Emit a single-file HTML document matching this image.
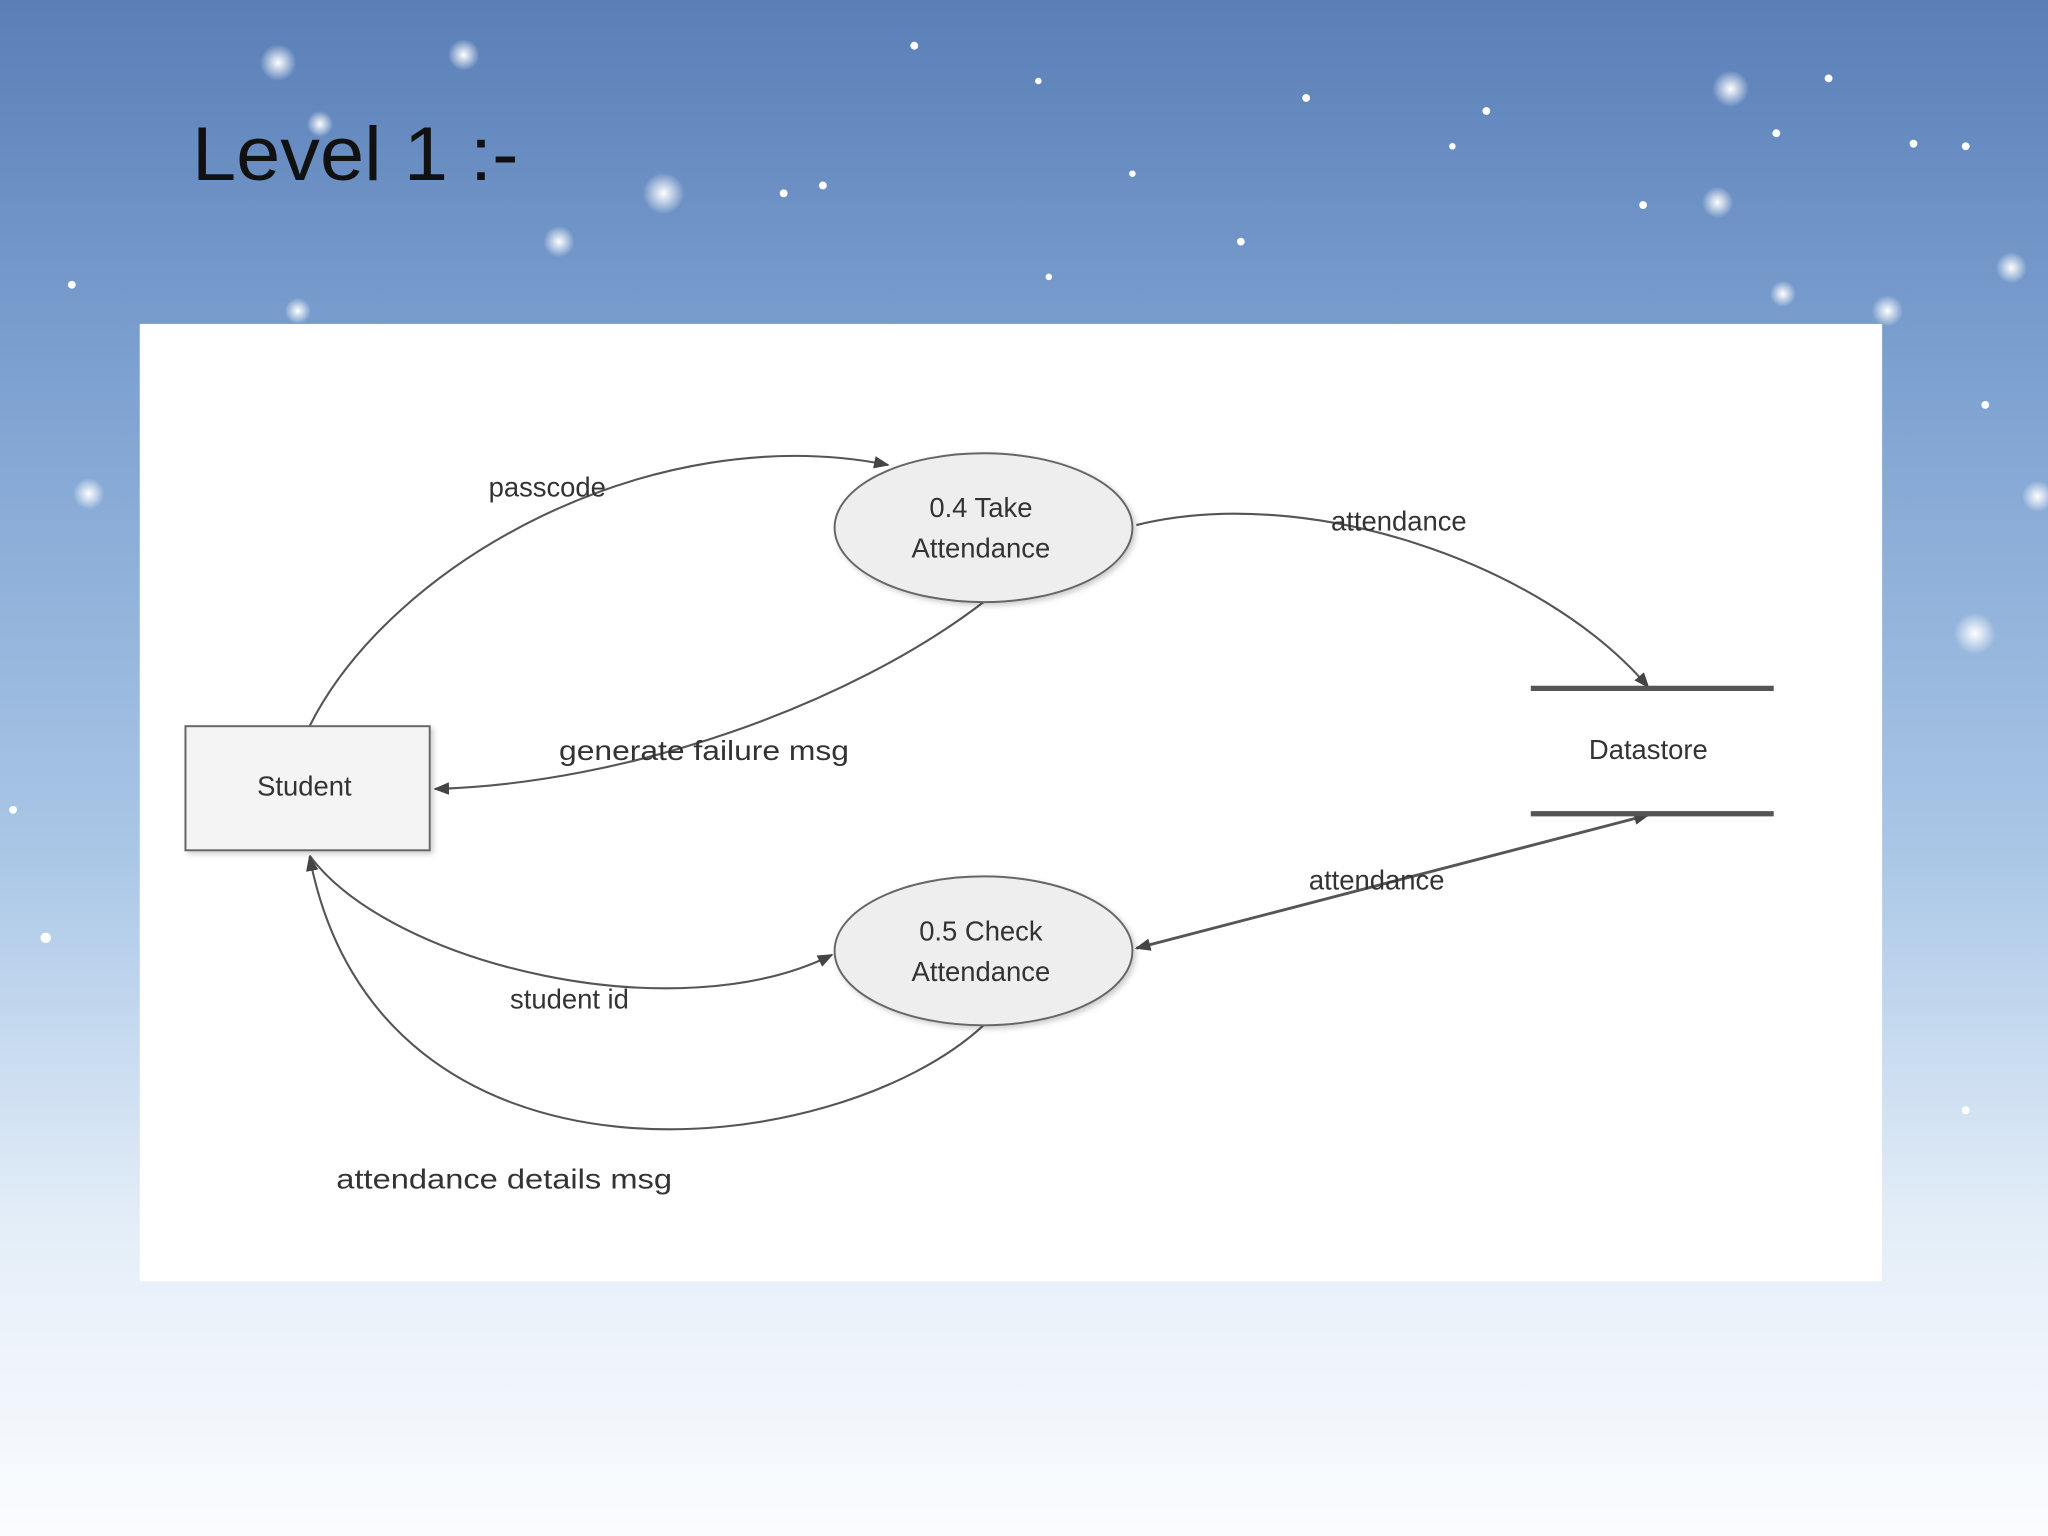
<!DOCTYPE html>
<html><head><meta charset="utf-8"><style>
html,body{margin:0;padding:0;width:2048px;height:1536px;overflow:hidden}
svg{display:block}
</style></head><body>
<svg width="2048" height="1536" viewBox="0 0 1568 1176" xmlns="http://www.w3.org/2000/svg">
<defs>
<linearGradient id="bg" x1="0" y1="0" x2="0" y2="1">
<stop offset="0" stop-color="#5a7fb7"/>
<stop offset="0.25" stop-color="#7ea2d1"/>
<stop offset="0.55" stop-color="#a9c6e6"/>
<stop offset="0.8" stop-color="#e4eef8"/>
<stop offset="1" stop-color="#fbfcfe"/>
</linearGradient>
<radialGradient id="st"><stop offset="0" stop-color="#fff"/><stop offset="1" stop-color="#fff" stop-opacity="0"/></radialGradient>
<marker id="ar" viewBox="0 0 10 10" refX="9" refY="5" markerWidth="12" markerHeight="12" markerUnits="userSpaceOnUse" orient="auto-start-reverse">
<path d="M0,1 L10,5 L0,9 z" fill="#444"/></marker>
<filter id="sh"><feDropShadow dx="2" dy="2" stdDeviation="2" flood-color="#000" flood-opacity="0.2"/></filter>
</defs>
<rect width="1568" height="1176" fill="url(#bg)"/>
<g fill="url(#st)">
<circle cx="213" cy="48" r="14"/><circle cx="355" cy="42" r="12"/><circle cx="245" cy="95" r="10"/>
<circle cx="508" cy="148" r="16"/><circle cx="428" cy="185" r="12"/><circle cx="68" cy="378" r="12"/>
<circle cx="1325" cy="68" r="14"/><circle cx="1315" cy="155" r="12"/><circle cx="1540" cy="205" r="12"/>
<circle cx="1445" cy="238" r="12"/><circle cx="1512" cy="485" r="16"/><circle cx="1365" cy="225" r="10"/>
<circle cx="228" cy="238" r="10"/><circle cx="1560" cy="380" r="12"/>
</g>
<g fill="#fff">
<circle cx="600" cy="148" r="3"/><circle cx="630" cy="142" r="3"/><circle cx="795" cy="62" r="2.5"/>
<circle cx="1000" cy="75" r="3"/><circle cx="1138" cy="85" r="3"/><circle cx="1112" cy="112" r="2.5"/>
<circle cx="950" cy="185" r="3"/><circle cx="1258" cy="157" r="3"/><circle cx="1360" cy="102" r="3"/>
<circle cx="1400" cy="60" r="3"/><circle cx="1465" cy="110" r="3"/><circle cx="1505" cy="112" r="3"/>
<circle cx="700" cy="35" r="3"/><circle cx="867" cy="133" r="2.5"/><circle cx="803" cy="212" r="2.5"/>
<circle cx="55" cy="218" r="3"/><circle cx="35" cy="718" r="4"/><circle cx="10" cy="620" r="3"/>
<circle cx="1520" cy="310" r="3"/><circle cx="1505" cy="850" r="3"/>
</g>
<text x="147" y="138" font-family="Liberation Sans, sans-serif" font-size="58" fill="#111" textLength="250" lengthAdjust="spacingAndGlyphs">Level 1 :-</text>
<rect x="107" y="248" width="1334" height="733" fill="#fff"/>
<g fill="none" stroke="#555" stroke-width="1.6">
<path d="M237,556 C300,430 500,320 680,356" marker-end="url(#ar)"/>
<path d="M753,461 C650,540 480,600 333,604" marker-end="url(#ar)"/>
<path d="M870,402 C1000,370 1180,430 1262,526" marker-end="url(#ar)"/>
<path d="M237,655 C300,740 520,790 637,731" marker-end="url(#ar)"/>
<path d="M753,785 C640,890 290,930 237,656" marker-end="url(#ar)"/>
<path d="M870,726 L1262,624" marker-start="url(#ar)" marker-end="url(#ar)" stroke-width="2.2"/>
</g>
<rect x="142" y="556" width="187" height="95" fill="#f4f4f4" stroke="#666" stroke-width="1.5" filter="url(#sh)"/>
<ellipse cx="753" cy="404" rx="114" ry="57" fill="#eeeeee" stroke="#666" stroke-width="1.5" filter="url(#sh)"/>
<ellipse cx="753" cy="728" rx="114" ry="57" fill="#eeeeee" stroke="#666" stroke-width="1.5" filter="url(#sh)"/>
<line x1="1172" y1="527" x2="1358" y2="527" stroke="#555" stroke-width="4"/>
<line x1="1172" y1="623" x2="1358" y2="623" stroke="#555" stroke-width="4"/>
<g font-family="Liberation Sans, sans-serif" font-size="21" fill="#333" text-anchor="middle">
<text x="233" y="609">Student</text>
<text x="751" y="396">0.4 Take</text><text x="751" y="427">Attendance</text>
<text x="751" y="720">0.5 Check</text><text x="751" y="751">Attendance</text>
<text x="1262" y="581">Datastore</text>
<text x="419" y="380">passcode</text>
<text x="1071" y="406">attendance</text>
<text x="539" y="582" textLength="222" lengthAdjust="spacingAndGlyphs">generate failure msg</text>
<text x="1054" y="681">attendance</text>
<text x="436" y="772">student id</text>
<text x="386" y="910" textLength="257" lengthAdjust="spacingAndGlyphs">attendance details msg</text>
</g>
</svg>
</body></html>
